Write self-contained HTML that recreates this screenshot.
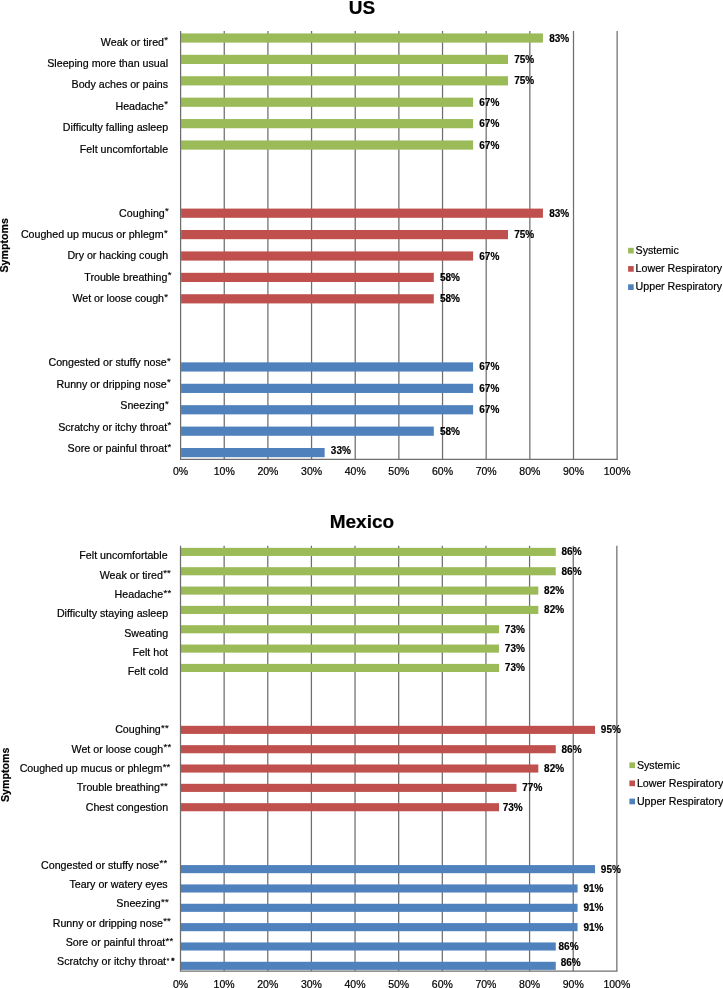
<!DOCTYPE html>
<html><head><meta charset="utf-8"><title>Symptoms US Mexico</title>
<style>
html,body{margin:0;padding:0;background:#fff;}
body{width:723px;height:988px;overflow:hidden;}
svg{display:block;}
text{font-family:"Liberation Sans",Arial,Helvetica,sans-serif;fill:#000;stroke:#000;stroke-width:0.2px;}
.cat{font-size:10.67px;}
.tick{font-size:10.5px;}
.val{font-size:10px;font-weight:bold;stroke-width:0.18px;}
.leg{font-size:10.67px;}
.ast{font-size:9.5px;letter-spacing:0.2px;stroke-width:0.15px;}
.asts{font-size:7.5px;letter-spacing:1.23px;stroke-width:0.1px;}
.astb{font-weight:bold;font-size:8px;stroke-width:0.4px;}
.sym{font-size:10.67px;font-weight:bold;}
.title{font-size:19px;font-weight:bold;}
</style></head><body>
<svg width="723" height="988" viewBox="0 0 723 988">
<rect width="723" height="988" fill="#ffffff"/>
<line x1="224.25" y1="31.00" x2="224.25" y2="459.40" stroke="#6e6e6e" stroke-width="1.25"/>
<line x1="267.91" y1="31.00" x2="267.91" y2="459.40" stroke="#6e6e6e" stroke-width="1.25"/>
<line x1="311.56" y1="31.00" x2="311.56" y2="459.40" stroke="#6e6e6e" stroke-width="1.25"/>
<line x1="355.22" y1="31.00" x2="355.22" y2="459.40" stroke="#6e6e6e" stroke-width="1.25"/>
<line x1="398.88" y1="31.00" x2="398.88" y2="459.40" stroke="#6e6e6e" stroke-width="1.25"/>
<line x1="442.53" y1="31.00" x2="442.53" y2="459.40" stroke="#6e6e6e" stroke-width="1.25"/>
<line x1="486.18" y1="31.00" x2="486.18" y2="459.40" stroke="#6e6e6e" stroke-width="1.25"/>
<line x1="529.84" y1="31.00" x2="529.84" y2="459.40" stroke="#6e6e6e" stroke-width="1.25"/>
<line x1="573.50" y1="31.00" x2="573.50" y2="459.40" stroke="#6e6e6e" stroke-width="1.25"/>
<line x1="617.15" y1="31.00" x2="617.15" y2="459.40" stroke="#6e6e6e" stroke-width="1.25"/>
<rect x="181.10" y="33.41" width="361.84" height="9.20" fill="#9bbb59"/>
<text class="cat" x="168.25" y="45.50" text-anchor="end">Weak or tired<tspan class="ast" dx="0.3" dy="-2.3">*</tspan></text>
<text class="val" x="549.14" y="41.51">83%</text>
<rect x="181.10" y="54.81" width="326.91" height="9.20" fill="#9bbb59"/>
<text class="cat" x="168.10" y="66.89" text-anchor="end">Sleeping more than usual</text>
<text class="val" x="514.21" y="62.91">75%</text>
<rect x="181.10" y="76.22" width="326.91" height="9.20" fill="#9bbb59"/>
<text class="cat" x="168.10" y="88.28" text-anchor="end">Body aches or pains</text>
<text class="val" x="514.21" y="84.32">75%</text>
<rect x="181.10" y="97.64" width="291.99" height="9.20" fill="#9bbb59"/>
<text class="cat" x="168.25" y="109.67" text-anchor="end">Headache<tspan class="ast" dx="0.3" dy="-2.3">*</tspan></text>
<text class="val" x="479.29" y="105.73">67%</text>
<rect x="181.10" y="119.05" width="291.99" height="9.20" fill="#9bbb59"/>
<text class="cat" x="168.10" y="131.06" text-anchor="end">Difficulty falling asleep</text>
<text class="val" x="479.29" y="127.14">67%</text>
<rect x="181.10" y="140.45" width="291.99" height="9.20" fill="#9bbb59"/>
<text class="cat" x="168.10" y="153.15" text-anchor="end">Felt uncomfortable</text>
<text class="val" x="479.29" y="148.55">67%</text>
<rect x="181.10" y="208.59" width="361.84" height="9.20" fill="#c0504d"/>
<text class="cat" x="168.95" y="216.62" text-anchor="end">Coughing<tspan class="ast" dx="0.3" dy="-2.3">*</tspan></text>
<text class="val" x="549.14" y="216.69">83%</text>
<rect x="181.10" y="230.00" width="326.91" height="9.20" fill="#c0504d"/>
<text class="cat" x="167.85" y="238.01" text-anchor="end">Coughed up mucus or phlegm<tspan class="ast" dx="0.3" dy="-2.3">*</tspan></text>
<text class="val" x="514.21" y="238.09">75%</text>
<rect x="181.10" y="251.41" width="291.99" height="9.20" fill="#c0504d"/>
<text class="cat" x="168.10" y="259.40" text-anchor="end">Dry or hacking cough</text>
<text class="val" x="479.29" y="259.50">67%</text>
<rect x="181.10" y="272.81" width="252.70" height="9.20" fill="#c0504d"/>
<text class="cat" x="171.65" y="280.79" text-anchor="end">Trouble breathing<tspan class="ast" dx="0.3" dy="-2.3">*</tspan></text>
<text class="val" x="440.00" y="280.92">58%</text>
<rect x="181.10" y="294.22" width="252.70" height="9.20" fill="#c0504d"/>
<text class="cat" x="168.25" y="302.18" text-anchor="end">Wet or loose cough<tspan class="ast" dx="0.3" dy="-2.3">*</tspan></text>
<text class="val" x="440.00" y="302.32">58%</text>
<rect x="181.10" y="362.35" width="291.99" height="9.20" fill="#4f81bd"/>
<text class="cat" x="170.95" y="366.35" text-anchor="end">Congested or stuffy nose<tspan class="ast" dx="0.3" dy="-2.3">*</tspan></text>
<text class="val" x="479.29" y="370.45">67%</text>
<rect x="181.10" y="383.76" width="291.99" height="9.20" fill="#4f81bd"/>
<text class="cat" x="170.95" y="387.74" text-anchor="end">Runny or dripping nose<tspan class="ast" dx="0.3" dy="-2.3">*</tspan></text>
<text class="val" x="479.29" y="391.86">67%</text>
<rect x="181.10" y="405.17" width="291.99" height="9.20" fill="#4f81bd"/>
<text class="cat" x="168.95" y="409.13" text-anchor="end">Sneezing<tspan class="ast" dx="0.3" dy="-2.3">*</tspan></text>
<text class="val" x="479.29" y="413.27">67%</text>
<rect x="181.10" y="426.58" width="252.70" height="9.20" fill="#4f81bd"/>
<text class="cat" x="171.35" y="430.52" text-anchor="end">Scratchy or itchy throat<tspan class="ast" dx="0.3" dy="-2.3">*</tspan></text>
<text class="val" x="440.00" y="434.68">58%</text>
<rect x="181.10" y="447.99" width="143.56" height="9.20" fill="#4f81bd"/>
<text class="cat" x="171.35" y="451.91" text-anchor="end">Sore or painful throat<tspan class="ast" dx="0.3" dy="-2.3">*</tspan></text>
<text class="val" x="330.86" y="453.99">33%</text>
<line x1="180.60" y1="31.00" x2="180.60" y2="459.40" stroke="#6e6e6e" stroke-width="1.25"/>
<line x1="179.97" y1="459.40" x2="617.77" y2="459.40" stroke="#6e6e6e" stroke-width="1.25"/>
<text class="tick" x="180.60" y="475.4" text-anchor="middle">0%</text>
<text class="tick" x="224.25" y="475.4" text-anchor="middle">10%</text>
<text class="tick" x="267.91" y="475.4" text-anchor="middle">20%</text>
<text class="tick" x="311.56" y="475.4" text-anchor="middle">30%</text>
<text class="tick" x="355.22" y="475.4" text-anchor="middle">40%</text>
<text class="tick" x="398.88" y="475.4" text-anchor="middle">50%</text>
<text class="tick" x="442.53" y="475.4" text-anchor="middle">60%</text>
<text class="tick" x="486.18" y="475.4" text-anchor="middle">70%</text>
<text class="tick" x="529.84" y="475.4" text-anchor="middle">80%</text>
<text class="tick" x="573.50" y="475.4" text-anchor="middle">90%</text>
<text class="tick" x="617.15" y="475.4" text-anchor="middle">100%</text>
<text class="title" x="361.9" y="14.0" text-anchor="middle">US</text>
<text class="sym" transform="translate(8.4,245.3) rotate(-90)" text-anchor="middle">Symptoms</text>
<rect x="628.10" y="247.80" width="5.6" height="5.7" fill="#9bbb59"/>
<text class="leg" x="635.60" y="253.50">Systemic</text>
<rect x="628.10" y="266.05" width="5.6" height="5.7" fill="#c0504d"/>
<text class="leg" x="635.60" y="271.75">Lower Respiratory</text>
<rect x="628.10" y="284.30" width="5.6" height="5.7" fill="#4f81bd"/>
<text class="leg" x="635.60" y="290.00">Upper Respiratory</text>
<line x1="224.13" y1="545.70" x2="224.13" y2="971.00" stroke="#6e6e6e" stroke-width="1.25"/>
<line x1="267.77" y1="545.70" x2="267.77" y2="971.00" stroke="#6e6e6e" stroke-width="1.25"/>
<line x1="311.41" y1="545.70" x2="311.41" y2="971.00" stroke="#6e6e6e" stroke-width="1.25"/>
<line x1="355.04" y1="545.70" x2="355.04" y2="971.00" stroke="#6e6e6e" stroke-width="1.25"/>
<line x1="398.68" y1="545.70" x2="398.68" y2="971.00" stroke="#6e6e6e" stroke-width="1.25"/>
<line x1="442.31" y1="545.70" x2="442.31" y2="971.00" stroke="#6e6e6e" stroke-width="1.25"/>
<line x1="485.95" y1="545.70" x2="485.95" y2="971.00" stroke="#6e6e6e" stroke-width="1.25"/>
<line x1="529.58" y1="545.70" x2="529.58" y2="971.00" stroke="#6e6e6e" stroke-width="1.25"/>
<line x1="573.22" y1="545.70" x2="573.22" y2="971.00" stroke="#6e6e6e" stroke-width="1.25"/>
<line x1="616.85" y1="545.70" x2="616.85" y2="971.00" stroke="#6e6e6e" stroke-width="1.25"/>
<rect x="181.00" y="547.85" width="374.76" height="8.10" fill="#9bbb59"/>
<text class="cat" x="167.60" y="559.30" text-anchor="end">Felt uncomfortable</text>
<text class="val" x="561.56" y="555.40">86%</text>
<rect x="181.00" y="567.19" width="374.76" height="8.10" fill="#9bbb59"/>
<text class="cat" x="171.00" y="578.64" text-anchor="end">Weak or tired<tspan class="ast" dx="0.3" dy="-2.3">**</tspan></text>
<text class="val" x="561.56" y="574.74">86%</text>
<rect x="181.00" y="586.53" width="357.31" height="8.10" fill="#9bbb59"/>
<text class="cat" x="171.30" y="597.98" text-anchor="end">Headache<tspan class="ast" dx="0.3" dy="-2.3">**</tspan></text>
<text class="val" x="544.11" y="594.08">82%</text>
<rect x="181.00" y="605.87" width="357.31" height="8.10" fill="#9bbb59"/>
<text class="cat" x="168.10" y="617.32" text-anchor="end">Difficulty staying asleep</text>
<text class="val" x="544.11" y="613.42">82%</text>
<rect x="181.00" y="625.21" width="318.04" height="8.10" fill="#9bbb59"/>
<text class="cat" x="168.10" y="636.66" text-anchor="end">Sweating</text>
<text class="val" x="504.84" y="632.76">73%</text>
<rect x="181.00" y="644.55" width="318.04" height="8.10" fill="#9bbb59"/>
<text class="cat" x="168.10" y="656.00" text-anchor="end">Felt hot</text>
<text class="val" x="504.84" y="652.10">73%</text>
<rect x="181.00" y="663.89" width="318.04" height="8.10" fill="#9bbb59"/>
<text class="cat" x="168.10" y="675.34" text-anchor="end">Felt cold</text>
<text class="val" x="504.84" y="671.44">73%</text>
<rect x="181.00" y="725.81" width="414.03" height="8.10" fill="#c0504d"/>
<text class="cat" x="168.90" y="733.36" text-anchor="end">Coughing<tspan class="ast" dx="0.3" dy="-2.3">**</tspan></text>
<text class="val" x="600.83" y="733.36">95%</text>
<rect x="181.00" y="745.15" width="374.76" height="8.10" fill="#c0504d"/>
<text class="cat" x="171.30" y="752.70" text-anchor="end">Wet or loose cough<tspan class="ast" dx="0.3" dy="-2.3">**</tspan></text>
<text class="val" x="561.56" y="752.70">86%</text>
<rect x="181.00" y="764.48" width="357.31" height="8.10" fill="#c0504d"/>
<text class="cat" x="170.50" y="772.04" text-anchor="end">Coughed up mucus or phlegm<tspan class="ast" dx="0.3" dy="-2.3">**</tspan></text>
<text class="val" x="544.11" y="772.03">82%</text>
<rect x="181.00" y="783.82" width="335.49" height="8.10" fill="#c0504d"/>
<text class="cat" x="168.00" y="791.38" text-anchor="end">Trouble breathing<tspan class="ast" dx="0.3" dy="-2.3">**</tspan></text>
<text class="val" x="522.29" y="791.37">77%</text>
<rect x="181.00" y="803.16" width="318.04" height="8.10" fill="#c0504d"/>
<text class="cat" x="168.10" y="810.72" text-anchor="end">Chest congestion</text>
<text class="val" x="502.64" y="810.71">73%</text>
<rect x="181.00" y="865.08" width="414.03" height="8.10" fill="#4f81bd"/>
<text class="cat" x="167.40" y="868.74" text-anchor="end">Congested or stuffy nose<tspan class="ast" dx="0.3" dy="-2.3">**</tspan></text>
<text class="val" x="600.83" y="872.63">95%</text>
<rect x="181.00" y="884.42" width="396.58" height="8.10" fill="#4f81bd"/>
<text class="cat" x="167.70" y="888.08" text-anchor="end">Teary or watery eyes</text>
<text class="val" x="583.38" y="891.97">91%</text>
<rect x="181.00" y="903.76" width="396.58" height="8.10" fill="#4f81bd"/>
<text class="cat" x="168.90" y="907.42" text-anchor="end">Sneezing<tspan class="ast" dx="0.3" dy="-2.3">**</tspan></text>
<text class="val" x="583.38" y="911.31">91%</text>
<rect x="181.00" y="923.10" width="396.58" height="8.10" fill="#4f81bd"/>
<text class="cat" x="171.00" y="926.76" text-anchor="end">Runny or dripping nose<tspan class="ast" dx="0.3" dy="-2.3">**</tspan></text>
<text class="val" x="583.38" y="930.65">91%</text>
<rect x="181.00" y="942.44" width="374.76" height="8.10" fill="#4f81bd"/>
<text class="cat" x="173.40" y="946.10" text-anchor="end">Sore or painful throat<tspan class="ast" dx="0.3" dy="-2.3">**</tspan></text>
<text class="val" x="558.56" y="949.99">86%</text>
<rect x="181.00" y="961.78" width="374.76" height="8.10" fill="#4f81bd"/>
<text class="cat" x="175.50" y="965.44" text-anchor="end">Scratchy or itchy throat<tspan class="asts" dx="0.3" dy="-2.3">*</tspan><tspan class="asts astb" dx="0.6">*</tspan></text>
<text class="val" x="560.76" y="966.33">86%</text>
<line x1="180.50" y1="545.70" x2="180.50" y2="971.00" stroke="#6e6e6e" stroke-width="1.25"/>
<line x1="179.88" y1="971.00" x2="617.48" y2="971.00" stroke="#6e6e6e" stroke-width="1.25"/>
<text class="tick" x="180.50" y="987.9" text-anchor="middle">0%</text>
<text class="tick" x="224.13" y="987.9" text-anchor="middle">10%</text>
<text class="tick" x="267.77" y="987.9" text-anchor="middle">20%</text>
<text class="tick" x="311.41" y="987.9" text-anchor="middle">30%</text>
<text class="tick" x="355.04" y="987.9" text-anchor="middle">40%</text>
<text class="tick" x="398.68" y="987.9" text-anchor="middle">50%</text>
<text class="tick" x="442.31" y="987.9" text-anchor="middle">60%</text>
<text class="tick" x="485.95" y="987.9" text-anchor="middle">70%</text>
<text class="tick" x="529.58" y="987.9" text-anchor="middle">80%</text>
<text class="tick" x="573.22" y="987.9" text-anchor="middle">90%</text>
<text class="tick" x="616.85" y="987.9" text-anchor="middle">100%</text>
<text class="title" x="361.9" y="527.9" text-anchor="middle">Mexico</text>
<text class="sym" transform="translate(9.2,774.8) rotate(-90)" text-anchor="middle">Symptoms</text>
<rect x="629.40" y="762.40" width="5.6" height="5.7" fill="#9bbb59"/>
<text class="leg" x="636.90" y="768.60">Systemic</text>
<rect x="629.40" y="780.50" width="5.6" height="5.7" fill="#c0504d"/>
<text class="leg" x="636.90" y="786.70">Lower Respiratory</text>
<rect x="629.40" y="798.60" width="5.6" height="5.7" fill="#4f81bd"/>
<text class="leg" x="636.90" y="804.80">Upper Respiratory</text>
</svg>
</body></html>
